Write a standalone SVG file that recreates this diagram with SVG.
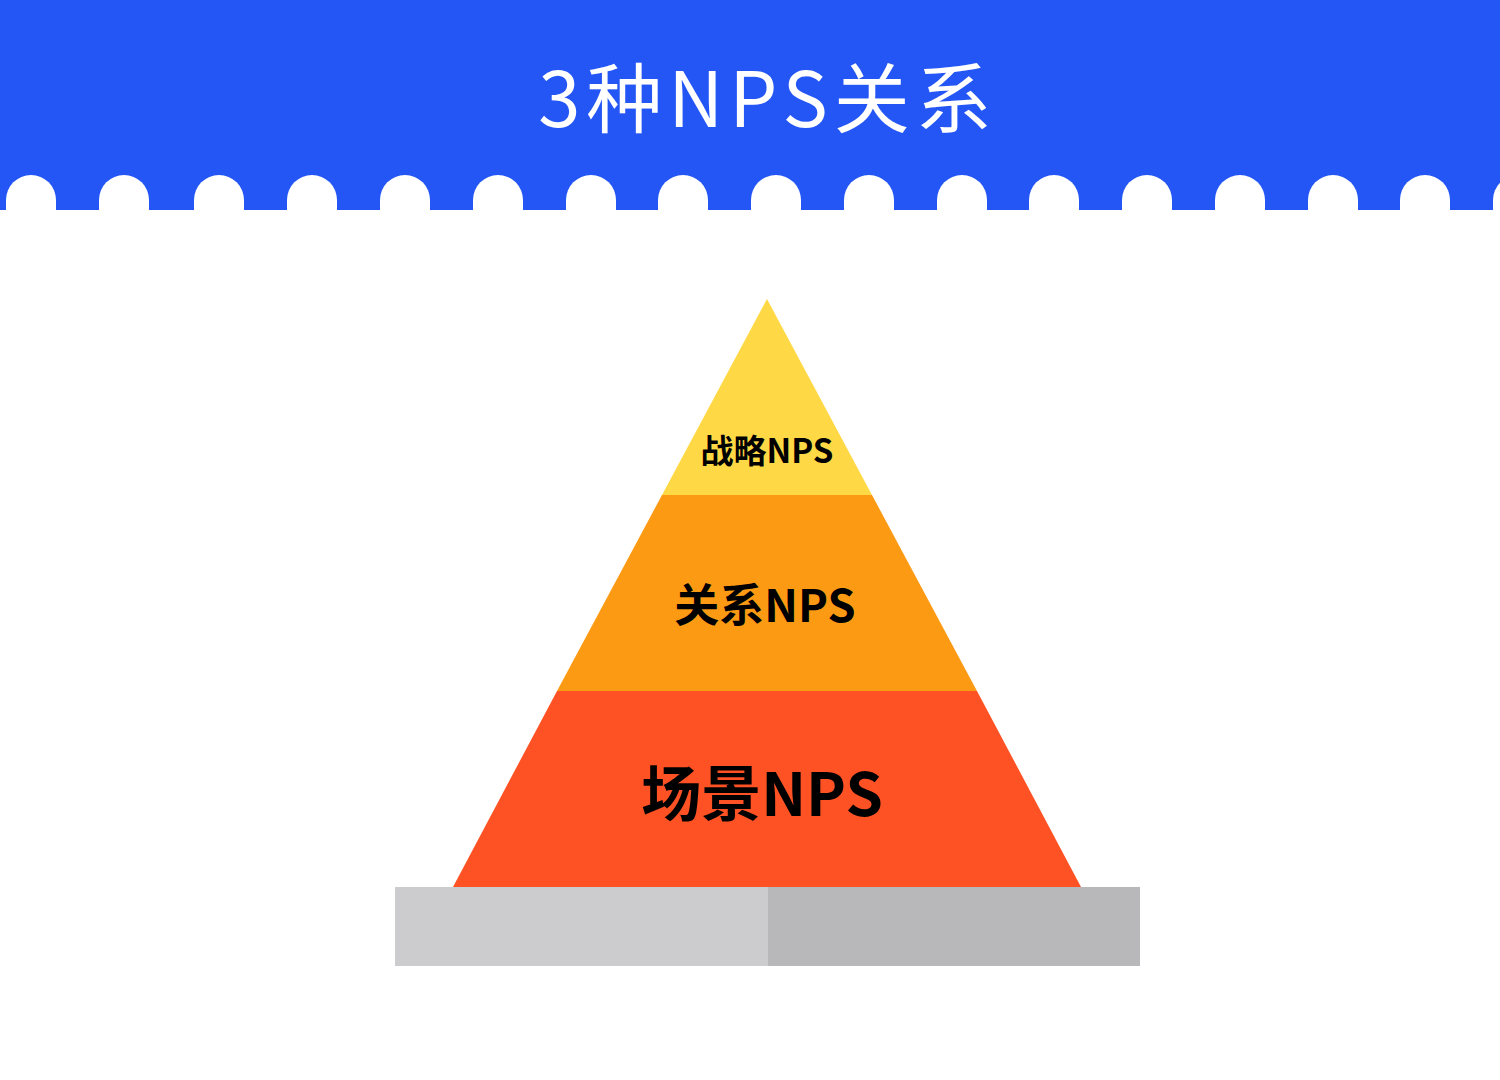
<svg xmlns="http://www.w3.org/2000/svg" width="1500" height="1080" viewBox="0 0 1500 1080">
<defs>
<style>
.title{font-family:"Noto Sans CJK SC","Noto Sans",sans-serif;font-size:76px;fill:#ffffff;letter-spacing:6px}
.lbl{font-family:"Noto Sans CJK SC","Noto Sans",sans-serif;font-weight:bold;fill:#000000;text-anchor:middle}
.tab{fill:#ffffff}
</style>
<path id="tabshape" d="M0,210 V200 A25,25 0 0 1 50,200 V210 Z"/>
</defs>
<rect width="1500" height="1080" fill="#ffffff"/>
<g id="header">
<rect x="0" y="0" width="1500" height="210" fill="#2456F6"/>
<g class="tab">
<use href="#tabshape" x="6"/>
<use href="#tabshape" x="99"/>
<use href="#tabshape" x="194"/>
<use href="#tabshape" x="287"/>
<use href="#tabshape" x="380"/>
<use href="#tabshape" x="473"/>
<use href="#tabshape" x="566"/>
<use href="#tabshape" x="658"/>
<use href="#tabshape" x="751"/>
<use href="#tabshape" x="844"/>
<use href="#tabshape" x="937"/>
<use href="#tabshape" x="1029"/>
<use href="#tabshape" x="1122"/>
<use href="#tabshape" x="1215"/>
<use href="#tabshape" x="1308"/>
<use href="#tabshape" x="1400"/>
<use href="#tabshape" x="1493"/>
</g>
<text class="title" x="768" y="127" text-anchor="middle">3种NPS关系</text>
</g>
<g id="base">
<rect x="395" y="887" width="373" height="79" fill="#CCCCCE"/>
<rect x="768" y="887" width="372" height="79" fill="#B8B8BA"/>
</g>
<g id="layer-top">
<polygon points="767,299 872,495 662,495" fill="#FFD945"/>
<text class="lbl" x="767" y="463" font-size="33">战略NPS</text>
</g>
<g id="layer-middle">
<polygon points="662,495 872,495 977,691 557,691" fill="#FD9A14"/>
<text class="lbl" x="765" y="622" font-size="45">关系NPS</text>
</g>
<g id="layer-bottom">
<polygon points="557,691 977,691 1081,887 453,887" fill="#FF5224"/>
<text class="lbl" x="762" y="816" font-size="60">场景NPS</text>
</g>
<g id="connectors"/>
</svg>
